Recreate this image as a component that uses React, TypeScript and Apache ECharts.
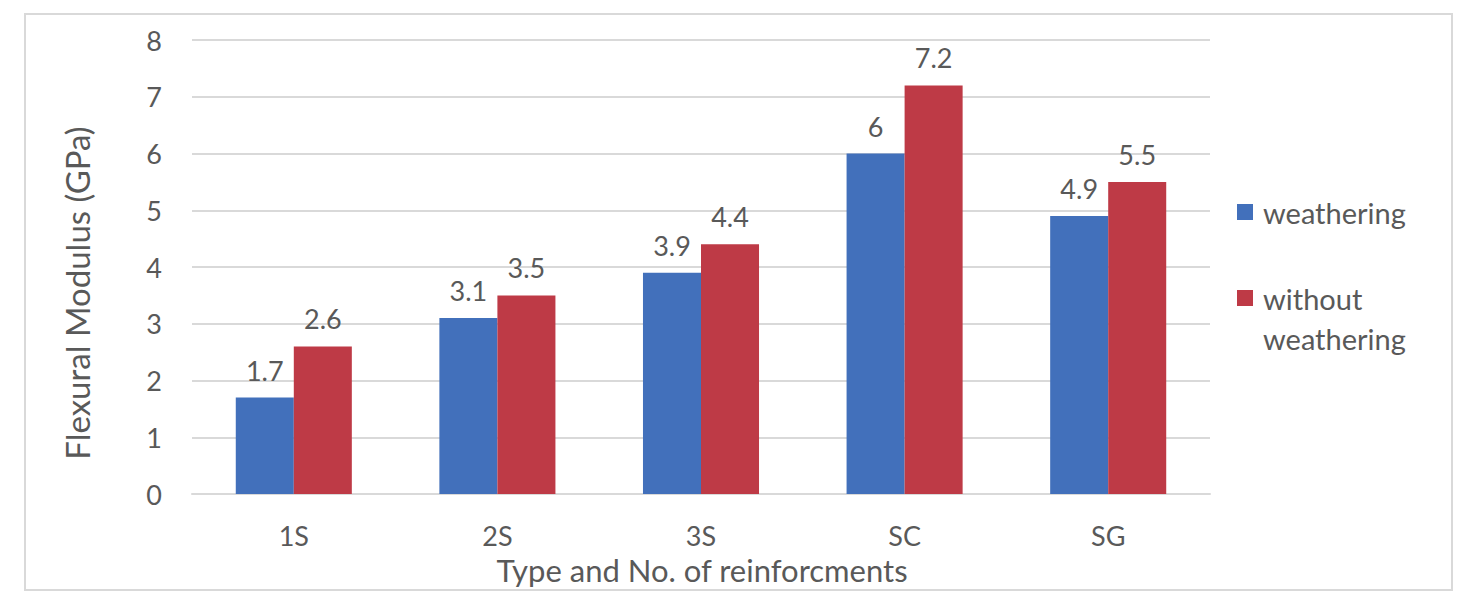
import React, { useEffect, useRef } from "react";
import * as echarts from "echarts";

const categories = ["1S", "2S", "3S", "SC", "SG"];
const weathering = [1.7, 3.1, 3.9, 6, 4.9];
const withoutWeathering = [2.6, 3.5, 4.4, 7.2, 5.5];
const seriesNames = ["weathering", "without weathering"];
const yTicks = { min: 0, max: 8, interval: 1 };

const FONT = "Lato, Carlito, Calibri, sans-serif";
const GRAY = "#595959";
// square at the top of a taller box, so the icon sits on the first text line
const TOP_SQUARE = "path://M0,0H16V16H0Z M16,55.9L16,56";

function App() {
  const chartRef = useRef<HTMLDivElement>(null);

  useEffect(() => {
    document.body.style.margin = "0";
    if (!chartRef.current) return;
    const chart = echarts.init(chartRef.current, undefined, { renderer: "svg" });
    const label = {
      show: true,
      position: "top" as const,
      distance: 14,
      color: GRAY,
      fontSize: 27,
      fontFamily: FONT,
    };
    const legendText = {
      color: GRAY,
      fontSize: 29,
      fontFamily: FONT,
      lineHeight: 40,
      padding: [0, 0, 0, 5],
    };
    const options: echarts.EChartsOption = {
      animation: false,
      grid: { left: 192, right: 259, top: 40, bottom: 102 },
      legend: [
        {
          orient: "vertical",
          left: 1237,
          top: 192,
          padding: 0,
          itemWidth: 16,
          itemHeight: 16,
          icon: "rect",
          data: [seriesNames[0]],
          textStyle: legendText,
        },
        {
          orient: "vertical",
          left: 1237,
          top: 278,
          padding: 0,
          itemWidth: 16,
          itemHeight: 56,
          icon: TOP_SQUARE,
          data: [seriesNames[1]],
          formatter: () => "without\nweathering",
          textStyle: legendText,
        },
      ],
      xAxis: {
        type: "category",
        data: categories,
        axisLine: { lineStyle: { color: "#d9d9d9", width: 2 } },
        axisTick: { show: false },
        axisLabel: {
          color: GRAY,
          fontSize: 27,
          fontFamily: FONT,
          lineHeight: 24,
          margin: 29,
        },
      },
      yAxis: {
        type: "value",
        ...yTicks,
        axisLine: { show: false },
        axisTick: { show: false },
        splitLine: { lineStyle: { color: "#d9d9d9", width: 2 } },
        axisLabel: { color: GRAY, fontSize: 27, fontFamily: FONT, margin: 30 },
      },
      graphic: [
        {
          type: "rect",
          shape: { x: 25, y: 14, width: 1427, height: 576 },
          style: { fill: "none", stroke: "#d9d9d9", lineWidth: 2 },
          silent: true,
        },
        {
          type: "text",
          x: 77,
          y: 293,
          rotation: Math.PI / 2,
          style: {
            text: "Flexural Modulus (GPa)",
            fill: GRAY,
            fontSize: 33,
            fontFamily: FONT,
            align: "center",
            verticalAlign: "middle",
          },
        },
        {
          type: "text",
          x: 702,
          y: 570,
          style: {
            text: "Type and No. of reinforcments",
            fill: GRAY,
            fontSize: 31,
            fontFamily: FONT,
            lineHeight: 26,
            align: "center",
            verticalAlign: "middle",
          },
        },
      ],
      series: [
        {
          name: seriesNames[0],
          type: "bar",
          data: weathering,
          barGap: "0%",
          barCategoryGap: "43%",
          itemStyle: { color: "#4270BB" },
          label,
        },
        {
          name: seriesNames[1],
          type: "bar",
          data: withoutWeathering,
          itemStyle: { color: "#BE3A46" },
          label,
        },
      ],
    };
    chart.setOption(options);
    return () => {
      chart.dispose();
    };
  }, []);

  return <div ref={chartRef} style={{ width: "1469px", height: "596px" }} />;
}

export default App;
